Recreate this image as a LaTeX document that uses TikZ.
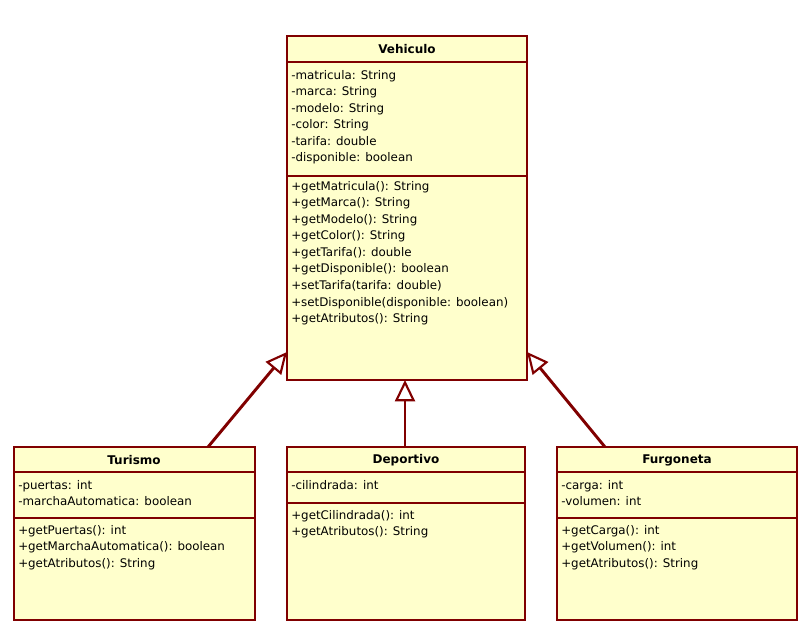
\documentclass[tikz,border=0pt]{standalone}
\usepackage{fontspec}
\setmainfont{DejaVu Sans}
\usetikzlibrary{arrows.meta}
\definecolor{umlred}{RGB}{128,0,0}
\definecolor{umlfill}{RGB}{255,255,204}
\begin{document}
\begin{tikzpicture}[x=0.75pt,y=-0.75pt,
  cls/.style={draw=umlred,fill=umlfill,line width=1.3pt},
  sep/.style={draw=umlred,line width=1pt},
  txt/.style={anchor=north west,inner sep=0pt,align=left,font=\fontsize{8.9}{12.4}\selectfont},
  ttl/.style={inner sep=0pt,font=\fontsize{9}{10}\selectfont\bfseries},
  gen/.style={draw=umlred,line width=2.2pt,-{Triangle[open,length=16pt,width=15pt,line width=1.6pt]}}]
\useasboundingbox (0,0) rectangle (806,630);
% Vehiculo
\draw[cls] (287,36) rectangle (527,380);
\coordinate (vbl) at (287,352); \coordinate (vbr) at (527,352); \coordinate (vb) at (405,380);
\draw[sep] (287,62) -- (527,62); \draw[sep] (287,176) -- (527,176);
\node[ttl] (vt) at (407,49) {Vehiculo};
\node[txt] (va) at (291,70) {-matricula: String\\-marca: String\\-modelo: String\\-color: String\\-tarifa: double\\-disponible: boolean};
\node[txt] (vm) at (291,181) {+getMatricula(): String\\+getMarca(): String\\+getModelo(): String\\+getColor(): String\\+getTarifa(): double\\+getDisponible(): boolean\\+setTarifa(tarifa: double)\\+setDisponible(disponible: boolean)\\+getAtributos(): String};
% Turismo
\draw[cls] (14,447) rectangle (255,620);
\draw[sep] (14,472) -- (255,472); \draw[sep] (14,518) -- (255,518);
\node[ttl] (tt) at (134,460) {Turismo};
\node[txt] (ta) at (18,480) {-puertas: int\\-marchaAutomatica: boolean};
\node[txt] (tm) at (18,525) {+getPuertas(): int\\+getMarchaAutomatica(): boolean\\+getAtributos(): String};
\coordinate (ttop) at (208,447);
% Deportivo
\draw[cls] (287,447) rectangle (525,620);
\draw[sep] (287,472) -- (525,472); \draw[sep] (287,503) -- (525,503);
\node[ttl] (dt) at (406,460) {Deportivo};
\node[txt] (da) at (291,480) {-cilindrada: int};
\node[txt] (dm) at (291,510) {+getCilindrada(): int\\+getAtributos(): String};
\coordinate (dtop) at (405,447);
% Furgoneta
\draw[cls] (557,447) rectangle (797,620);
\draw[sep] (557,472) -- (797,472); \draw[sep] (557,518) -- (797,518);
\node[ttl] (ft) at (677,460) {Furgoneta};
\node[txt] (fa) at (561,480) {-carga: int\\-volumen: int};
\node[txt] (fm) at (561,525) {+getCarga(): int\\+getVolumen(): int\\+getAtributos(): String};
\coordinate (ftop) at (605,447);
% generalizations
\draw[gen] (ttop) -- (vbl);
\draw[gen] (dtop) -- (vb);
\draw[gen] (ftop) -- (vbr);
\end{tikzpicture}
\end{document}
